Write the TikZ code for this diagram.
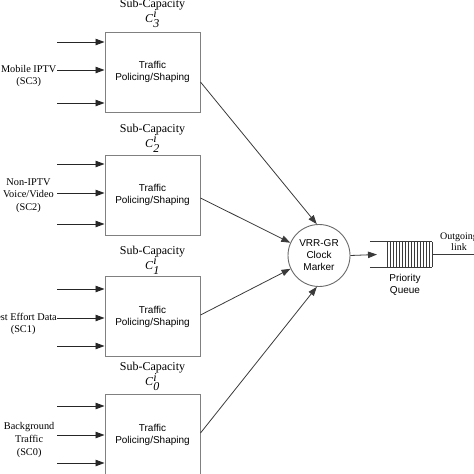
\documentclass[tikz,border=0pt]{standalone}
\usepackage{fontspec}
\setmainfont{Liberation Serif}
\newfontfamily\arialf{Liberation Sans}
\usetikzlibrary{arrows.meta,calc}
\definecolor{boxgray}{HTML}{808080}
\definecolor{conngray}{HTML}{3A3A3A}
\definecolor{circgray}{HTML}{6A6A6A}
\begin{document}
\begin{tikzpicture}[x=1pt,y=-1pt,
  tpbox/.style={draw=boxgray,line width=1pt,minimum width=95pt,minimum height=80pt,inner sep=0pt,
    font=\arialf\fontsize{10}{12}\selectfont,align=center},
  captxt/.style={font=\fontsize{12}{15}\selectfont,align=center,inner sep=0pt},
  srctxt/.style={font=\fontsize{10.3}{12.7}\selectfont,align=center,inner sep=0pt,anchor=east},
  inarrow/.style={draw=black!85,line width=0.9pt,-{Triangle[length=9pt,width=6.5pt]}},
  conn/.style={draw=conngray,line width=0.8pt,-{Triangle[length=9pt,width=6.5pt]}},
  marker/.style={circle,draw=circgray,line width=0.9pt,minimum size=62pt,inner sep=0pt,
    font=\arialf\fontsize{10}{12}\selectfont,align=center},
  sanstxt/.style={font=\arialf\fontsize{10}{12}\selectfont,align=center,inner sep=0pt},
  qline/.style={draw=conngray,line width=0.8pt},
  stripe/.style={draw=conngray,line width=0.5pt}]
\useasboundingbox (0,0) rectangle (474,474);
\clip (0,0) rectangle (474,474);

% boxes
\node[tpbox] (b3) at (152.5,72) {Traffic\\Policing/Shaping};
\node[tpbox] (b2) at (152.5,195) {Traffic\\Policing/Shaping};
\node[tpbox] (b1) at (152.5,316.5) {Traffic\\Policing/Shaping};
\node[tpbox,minimum height=82pt] (b0) at (152.5,435) {Traffic\\Policing/Shaping};

% captions
\node[captxt] (c3) at (152.5,13) {Sub-Capacity\\\textit{C}$^{\textit{i}}_{\textit{3}}$};
\node[captxt] (c2) at (152.5,138) {Sub-Capacity\\\textit{C}$^{\textit{i}}_{\textit{2}}$};
\node[captxt] (c1) at (152.5,260) {Sub-Capacity\\\textit{C}$^{\textit{i}}_{\textit{1}}$};
\node[captxt] (c0) at (152.5,376.5) {Sub-Capacity\\\textit{C}$^{\textit{i}}_{\textit{0}}$};

% source labels
\node[srctxt] (l3) at (56.5,76) {Mobile IPTV\\(SC3)};
\node[srctxt] (l2) at (54,195.5) {Non-IPTV\\Voice/Video\\(SC2)};
\node[srctxt] (l1) at (57,324) {Best Effort Data\\(SC1)};
\node[srctxt] (l0) at (54.5,440) {Background\\Traffic\\(SC0)};

% input arrows
\foreach \b/\ya/\yb/\yc in {b3/42/70/103, b2/164/193/224, b1/289/318/346, b0/406/435/463}{
  \coordinate (\b a) at (57,\ya);
  \coordinate (\b b) at (57,\yb);
  \coordinate (\b c) at (57,\yc);
  \draw[inarrow] (\b a) -- (\b a -| \b.west);
  \draw[inarrow] (\b b) -- (\b b -| \b.west);
  \draw[inarrow] (\b c) -- (\b c -| \b.west);
}

% marker
\node[marker] (vrr) at (319,255.5) {VRR-GR\\Clock\\Marker};

\draw[conn] ($(b3.east)+(0,10)$) -- (vrr.94);
\draw[conn] ($(b2.east)+(0,3)$) -- (vrr.156);
\draw[conn] ($(b1.east)+(0,-1.5)$) -- (vrr.205);
\draw[conn] ($(b0.east)+(0,-2)$) -- (vrr.266);

% priority queue
\node[minimum width=62pt,minimum height=25pt,inner sep=0pt] (pq) at (401,254.5) {};
\coordinate (qin) at (377,254.5);
\draw[conn] (vrr.east) -- (qin);
\draw[qline] (pq.north west) -- (pq.north east);
\draw[qline] (pq.south west) -- (pq.south east);
\foreach \i in {0,...,15}{
  \draw[stripe] ($(pq.north east)+(-3*\i,0)$) -- ($(pq.south east)+(-3*\i,0)$);
}
\coordinate (outl) at (476,254.5);
\draw[qline] (pq.east) -- (outl);

\node[sanstxt] (pql) at (405,285) {Priority\\Queue};
\node[font=\fontsize{10}{11.5}\selectfont,align=center,inner sep=0pt] (ol) at (459,241.5) {Outgoing\\link};
\end{tikzpicture}
\end{document}
